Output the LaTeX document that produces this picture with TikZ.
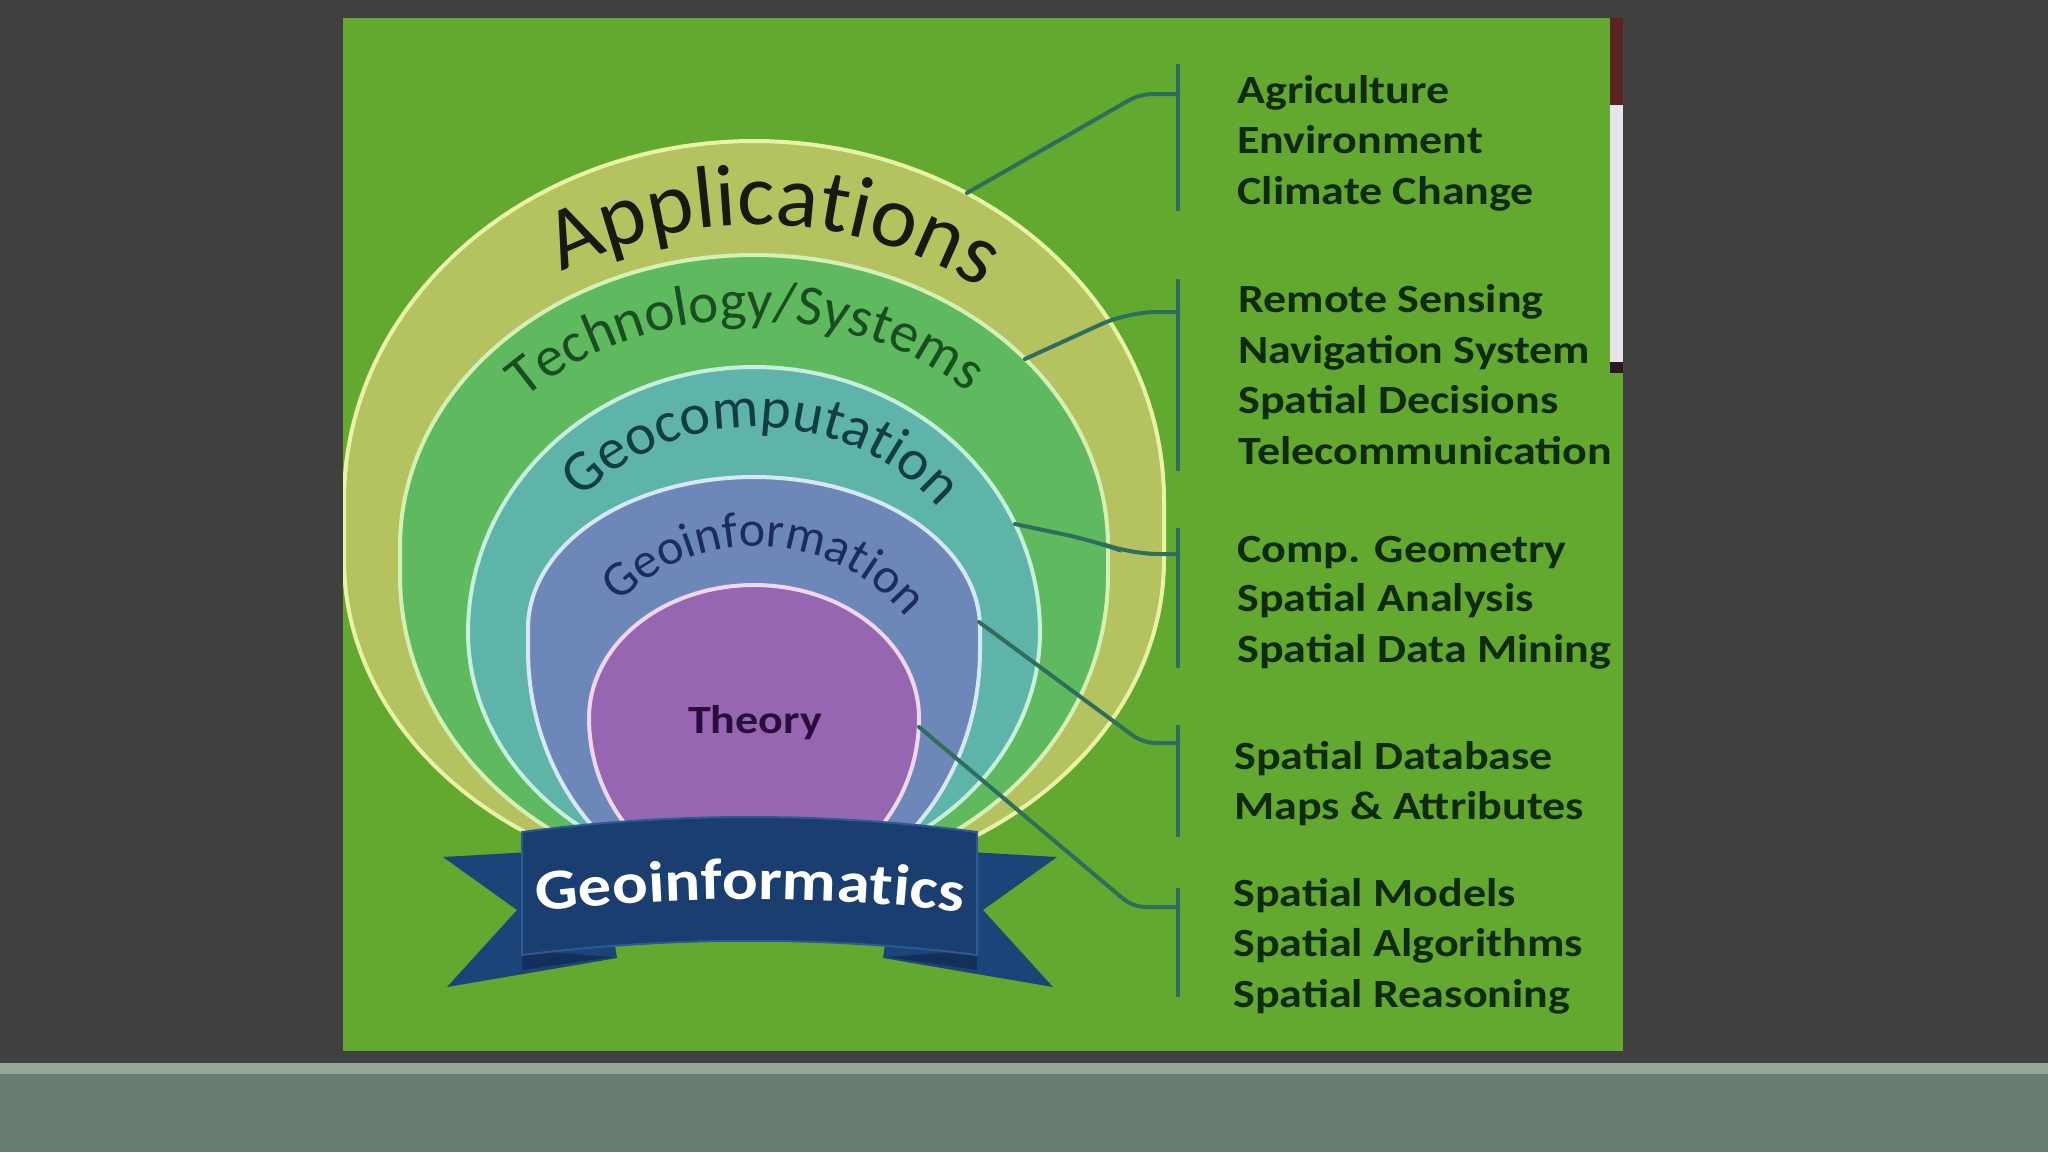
\documentclass[tikz,border=0pt]{standalone}
\usepackage{fontspec}
\setmainfont{Carlito}[FakeStretch=1.15]
\newfontfamily\ringfont{Carlito}
\usetikzlibrary{decorations.text}
\definecolor{bgdark}{HTML}{404040}
\definecolor{stripl}{HTML}{95A69B}
\definecolor{stripd}{HTML}{6B7D70}
\definecolor{panel}{HTML}{63A92F}
\definecolor{ringA}{HTML}{B4C35F}
\definecolor{ringB}{HTML}{5FB95F}
\definecolor{ringC}{HTML}{5FB4AA}
\definecolor{ringD}{HTML}{6E87B9}
\definecolor{ringE}{HTML}{9666B2}
\definecolor{edgeA}{HTML}{E9F3A6}
\definecolor{edgeB}{HTML}{D4F0B4}
\definecolor{edgeC}{HTML}{C6EFDC}
\definecolor{edgeD}{HTML}{D6E8F5}
\definecolor{edgeE}{HTML}{F0D6F0}
\definecolor{connc}{HTML}{2F6E5C}
\definecolor{listc}{HTML}{0F2A0C}
\definecolor{appc}{HTML}{161A10}
\definecolor{techc}{HTML}{1A4D22}
\definecolor{geocc}{HTML}{123C46}
\definecolor{geoic}{HTML}{1C2C5C}
\definecolor{theoryc}{HTML}{2A0D3A}
\definecolor{bodyc}{HTML}{1A3E70}
\definecolor{tailc}{HTML}{1D4478}
\definecolor{foldc}{HTML}{12305A}
\definecolor{bodyedge}{HTML}{2D5A92}
\definecolor{stripred}{HTML}{5A2222}
\definecolor{stripwhite}{HTML}{E6E3EA}
\definecolor{stripblk}{HTML}{2A1A1A}
\begin{document}
\begin{tikzpicture}[x=0.5pt,y=-0.5pt,
  conn/.style={draw=connc, line width=2pt, rounded corners=6pt, line cap=round},
  barline/.style={draw=connc, line width=2pt},
  lst/.style={anchor=base west, inner sep=0pt, text=listc, font=\bfseries\fontsize{20}{20}\selectfont},
  ringlabel/.style n args={3}{decorate, decoration={text along path, text align=center, text color=#2, text={|\ringfont\fontsize{#3}{#3}\selectfont|#1}}}
]
\useasboundingbox (0,0) rectangle (2048,1152);
\fill[bgdark] (0,0) rectangle (2048,1152);
\fill[stripl] (0,1063) rectangle (2048,1074);
\fill[stripd] (0,1074) rectangle (2048,1152);
\fill[panel] (343,18) rectangle (1623,1051);
\fill[stripred] (1610,18) rectangle (1623,105);
\fill[stripwhite] (1610,105) rectangle (1623,362);
\fill[stripblk] (1610,362) rectangle (1623,373);

% rings
\begin{scope}
\clip (343,18) rectangle (1623,1051);
\foreach \a/\cu/\bu/\cd/\bd/\fc/\ec in {410/500/359/560/328/ringA/edgeA, 354/546/291/576/310/ringB/edgeB, 286/632/265/632/245/ringC/edgeC, 226/628/151/650/252/ringD/edgeD, 165/718/133/718/170/ringE/edgeE}{
  \filldraw[fill=\fc, draw=\ec, line width=2pt]
    plot[domain=0:180, samples=91, variable=\t] ({754+\a*cos(\t)},{\cu-\bu*sin(\t)})
    -- plot[domain=180:360, samples=91, variable=\t] ({754+\a*cos(\t)},{\cd-\bd*sin(\t)}) -- cycle;
}
\end{scope}

% ring labels
\path[ringlabel={Applications}{appc}{44}] plot[domain=-45:50.4, samples=80, variable=\t] ({757+382*sin(\t)},{560-335*cos(\t)});
\path[ringlabel={Technology/Systems}{techc}{28.5}] plot[domain=-60:58.2, samples=80, variable=\t] ({750+320*sin(\t)},{590-270*cos(\t)});
\path[ringlabel={Geocomputation}{geocc}{29}] plot[domain=-75:78, samples=80, variable=\t] ({756+240*sin(\t)},{657-230*cos(\t)});
\path[ringlabel={Geoinformation}{geoic}{25}] plot[domain=-80:86, samples=80, variable=\t] ({756+190*sin(\t)},{731-185*cos(\t)});
\node[anchor=base, inner sep=0pt, text=theoryc, font=\bfseries\fontsize{20}{20}\selectfont] (theory) at (755,733) {Theory};

% connectors
\coordinate (s1) at (967,193);  \coordinate (k1) at (1140,94);  \coordinate (m1) at (1178,94);
\coordinate (s2) at (1025,359); \coordinate (k2) at (1128,312); \coordinate (m2) at (1178,312);
\coordinate (s3) at (1015,524); \coordinate (k3) at (1095,541); \coordinate (j3) at (1130,554); \coordinate (m3) at (1178,554);
\coordinate (s4) at (979,622);  \coordinate (k4) at (1143,743); \coordinate (m4) at (1178,743);
\coordinate (s5) at (919,727);  \coordinate (k5) at (1133,907); \coordinate (m5) at (1178,907);
\coordinate (b1t) at (1178,64);  \coordinate (b1b) at (1178,211);
\coordinate (b2t) at (1178,279); \coordinate (b2b) at (1178,471);
\coordinate (b3t) at (1178,528); \coordinate (b3b) at (1178,668);
\coordinate (b4t) at (1178,725); \coordinate (b4b) at (1178,837);
\coordinate (b5t) at (1178,888); \coordinate (b5b) at (1178,997);
\draw[conn] (s1) -- (k1) -- (m1);
\draw[conn, rounded corners=14pt] (s2) -- (k2) -- (m2);
\draw[conn, rounded corners=14pt] (s3) -- (k3) -- (j3) -- (m3);
\draw[conn] (s4) -- (k4) -- (m4);
\draw[conn] (s5) -- (k5) -- (m5);
\foreach \i in {1,...,5}{\draw[barline] (b\i t) -- (b\i b);}

% ribbon
\fill[tailc] (443,857) -- (600,848) -- (617,958) -- (447,987) -- (517,910) -- cycle;
\fill[tailc] (1057,857) -- (900,848) -- (883,958) -- (1053,987) -- (983,910) -- cycle;
\fill[foldc] (522,950) -- (612,957) -- (522,970) -- cycle;
\fill[foldc] (977,950) -- (888,957) -- (977,970) -- cycle;
\filldraw[fill=bodyc, draw=bodyedge, line width=1pt] (522,832) .. controls (672,812) and (827,812) .. (977,832) -- (977,955) .. controls (827,936) and (672,936) .. (522,955) -- cycle;
\path[decorate, decoration={text along path, text align=center, text color=white, text={|\bfseries\fontsize{29}{29}\selectfont|Geoinformatics}}] (515,915) .. controls (670,894) and (830,894) .. (985,915);

% lists
\node[lst] (t11) at (1237,103) {Agriculture};
\node[lst] (t12) at (1237,153) {Environment};
\node[lst] (t13) at (1237,204) {Climate Change};
\node[lst] (t21) at (1238,312) {Remote Sensing};
\node[lst] (t22) at (1238,363) {Navigation System};
\node[lst] (t23) at (1238,413) {Spatial Decisions};
\node[lst] (t24) at (1238,464) {Telecommunication};
\node[lst] (t31) at (1237,562) {Comp. Geometry};
\node[lst] (t32) at (1237,611) {Spatial Analysis};
\node[lst] (t33) at (1237,662) {Spatial Data Mining};
\node[lst] (t41) at (1234,769) {Spatial Database};
\node[lst] (t42) at (1234,819) {Maps \& Attributes};
\node[lst] (t51) at (1233,906) {Spatial Models};
\node[lst] (t52) at (1233,956) {Spatial Algorithms};
\node[lst] (t53) at (1233,1007) {Spatial Reasoning};
\end{tikzpicture}
\end{document}
